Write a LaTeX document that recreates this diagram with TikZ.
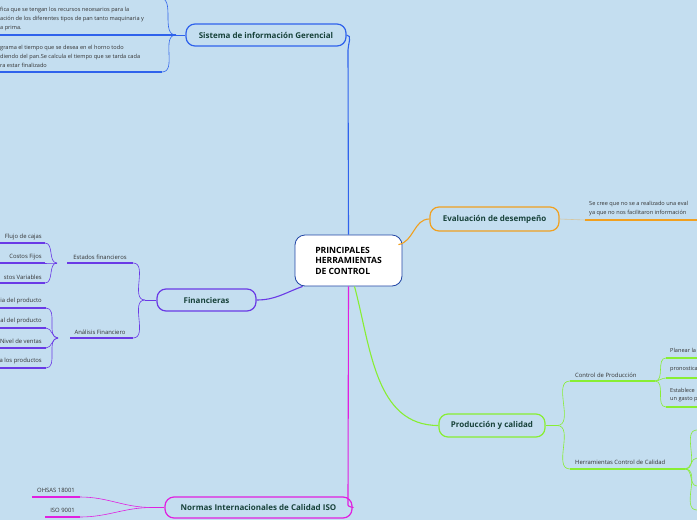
\documentclass[tikz,border=0pt]{standalone}
\usepackage{fontspec}
\setmainfont{Open Sans}
\begin{document}
\begin{tikzpicture}[x=1pt,y=-1pt,
 main/.style={draw=#1,line width=1.2pt,rounded corners=9pt,fill=bgc,text=titc,font=\bfseries\fontsize{8}{9}\selectfont,inner sep=0pt},
 leaf/.style={font=\fontsize{5.6}{8.8}\selectfont,text=leafc,anchor=west,align=left,inner sep=0pt},
 mid/.style={font=\fontsize{5.9}{7}\selectfont,text=leafc,inner sep=0pt},
 ul/.style={draw=#1,line width=1.6pt},
 th/.style={draw=#1,line width=0.6pt},
 lk/.style={draw=#1,line width=1.1pt}]
\definecolor{bgc}{HTML}{C4DEF0}
\definecolor{titc}{HTML}{17423A}
\definecolor{leafc}{HTML}{333333}
\definecolor{cb}{HTML}{2F62EC}
\definecolor{co}{HTML}{F0A020}
\definecolor{cg}{HTML}{88EE33}
\definecolor{cp}{HTML}{6A3AE6}
\definecolor{cm}{HTML}{E020E0}
\fill[bgc] (0,0) rectangle (697,520);
\useasboundingbox (0,0) rectangle (697,520);
% central
\node[draw=cb!70!black,line width=0.8pt,fill=white,rounded corners=10pt,minimum width=107pt,minimum height=51pt,font=\bfseries\fontsize{8.6}{10.5}\selectfont,align=left,text=black] (c) at (348.5,260.5) {PRINCIPALES\\HERRAMIENTAS\\DE CONTROL};
% main nodes
\node[main=cb,minimum width=160pt,minimum height=22pt] (s) at (266,35) {Sistema de información Gerencial};
\node[main=co,minimum width=129pt,minimum height=24pt] (e) at (494.5,219) {Evaluación de desempeño};
\node[main=cg,minimum width=106pt,minimum height=23pt] (p) at (492,425.5) {Producción y calidad};
\node[main=cp,minimum width=99pt,minimum height=22pt] (f) at (206.5,300) {Financieras};
\node[main=cm,minimum width=187pt,minimum height=21pt] (n) at (258.5,507.5) {Normas Internacionales de Calidad ISO};
% connectors from center
\draw[lk=cb] (c.north) -- (348,50) to[out=90,in=0] (s.east);
\draw[lk=co] (c.north east) ++(-4,10) to[out=10,in=180] (e.west);
\draw[lk=cg] (c.south) ++(6,0) to[out=-75,in=180] (p.west);
\draw[lk=cp] (c.south west) ++(8,0) to[out=-160,in=0] (f.east);
\draw[lk=cm] (c.south) -- (348,505) to[out=-90,in=0] (n.east);
% Sistema leaves
\node[leaf] (s1) at (0,19) {fica que se tengan los recursos necesarios para la\\ación de los diferentes tipos de pan tanto maquinaria y\\a prima.};
\node[leaf] (s2) at (0,56.5) {grama el tiempo que se desea en el horno todo\\diendo del pan.Se calcula el tiempo que se tarda cada\\ra estar finalizado};
\coordinate (sj) at (176,35);
\draw[th=cb] (s.west) -- (sj);
\draw[th=cb] (sj) to[out=180,in=0] (160,-2);
\draw[ul=cb] (0,35) -- (170,35) -- (sj);
\draw[th=cb] (sj) to[out=180,in=0] (162,72);
\draw[ul=cb] (0,72) -- (162,72);
% Evaluacion leaf
\node[leaf] (e1) at (589,208.5) {Se cree que no se a realizado una eval\\ya que no nos facilitaron información};
\draw[th=co!40!bgc] (e.east) -- (585,220);
\draw[ul=co] (585,220) -- (697,220);
% Produccion
\coordinate (pj) at (557,425.5);
\draw[th=cg] (p.east) -- (pj);
\node[mid,anchor=south west] (cp1) at (575,378) {Control de Producción};
\node[mid,anchor=south west] (hc) at (575,465) {Herramientas Control de Calidad};
\draw[th=cg] (pj) to[out=0,in=180] (570,381);
\draw[th=cg] (pj) to[out=0,in=180] (570,469);
\draw[ul=cg] (570,381) -- (655,381);
\draw[ul=cg] (570,469) -- (685,469);
\node[leaf] (pl1) at (670,350) {Planear la};
\node[leaf] (pl2) at (670,369.5) {pronostica};
\node[leaf] (pl3) at (670,395) {Establece\\un gasto p};
\foreach \y in {358,378,407}{\draw[th=cg] (655,381) to[out=0,in=180] (666,\y); \draw[ul=cg] (666,\y) -- (697,\y);}
\foreach \y in {430,458,486,510}{\draw[th=cg] (685,469) to[out=0,in=180] (697,\y);}
% Financieras
\coordinate (fj) at (145,300);
\draw[th=cp] (f.west) -- (fj);
\node[mid,anchor=south] (ef) at (100,260) {Estados financieros};
\node[mid,anchor=south] (af) at (100,335) {Análisis Financiero};
\draw[th=cp] (fj) to[out=180,in=0] (133,263);
\draw[th=cp] (fj) to[out=180,in=0] (133,338);
\draw[ul=cp] (67,263) -- (133,263);
\draw[ul=cp] (70,338) -- (133,338);
\node[mid,anchor=south east] (l1) at (42,240) {Flujo de cajas};
\node[mid,anchor=south east] (l2) at (42,260) {Costos Fijos};
\node[mid,anchor=south east] (l3) at (42,280) {stos Variables};
\foreach \y in {243,263,283}{\draw[th=cp] (57,263) to[out=180,in=0] (45,\y); \draw[ul=cp] (0,\y) -- (45,\y);}
\node[mid,anchor=south east] (l4) at (42,304) {ia del producto};
\node[mid,anchor=south east] (l5) at (42,324) {al del producto};
\node[mid,anchor=south east] (l6) at (42,344) {Nivel de ventas};
\node[mid,anchor=south east] (l7) at (42,364) {a los productos};
\foreach \y in {308,328,348,368}{\draw[th=cp] (58,338) to[out=180,in=0] (46,\y); \draw[ul=cp] (0,\y) -- (46,\y);}
% Normas
\coordinate (nj) at (152,507.5);
\draw[th=cm] (n.west) -- (nj);
\node[mid,anchor=south east] (o1) at (75,493) {OHSAS 18001};
\node[mid,anchor=south east] (o2) at (75,513) {ISO 9001};
\draw[th=cm] (nj) to[out=180,in=0] (80,497);
\draw[th=cm] (nj) to[out=180,in=0] (80,517);
\draw[ul=cm] (32,497) -- (80,497);
\draw[ul=cm] (45,517) -- (80,517);
\end{tikzpicture}
\end{document}
